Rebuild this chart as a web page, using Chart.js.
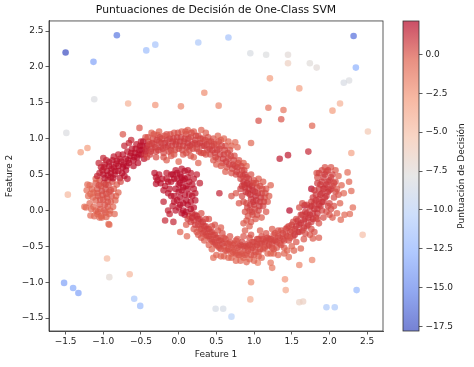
<!DOCTYPE html>
<html>
<head>
<meta charset="utf-8">
<script src="https://cdn.jsdelivr.net/npm/chart.js@4/dist/chart.umd.min.js"></script>
<style>
  body { margin: 0; background: #fff; }
  #wrap { position: relative; width: 474px; height: 367px; }
  #wrap canvas { position: absolute; left: 0; top: 0; }
</style>
</head>
<body>
<div id="wrap">
  <canvas id="scatter" width="474" height="367"></canvas>
  <canvas id="colorbar" width="474" height="367"></canvas>
</div>
<script>
// [x, y, decision score]
const upperMoon = [
  [-1.13,0.05,-0.7],[-1.08,-0.05,-0.4],[-1.02,-0.1,-0.4],[-0.96,-0.09,-0.3],[-0.92,-0.2,-0.8],[-0.99,0.0,0.0],[-1.05,0.08,0.0],
  [-0.94,0.05,0.0],[-0.9,0.12,-0.2],[-1.1,0.14,-0.3],[-1.18,0.1,-0.6],[-1.23,0.04,-0.8],[-1.16,0.02,-0.6],[-1.0,0.15,0.2],
  [-0.95,0.18,0.2],[-1.07,0.2,0.0],[-0.87,0.05,-0.4],[-0.85,-0.05,-0.6],[-1.03,-0.08,-0.3],[-1.12,-0.08,-0.6],
  [-1.13,0.25,-0.4],[-1.08,0.3,0.0],[-1.02,0.27,0.4],[-0.97,0.3,0.4],[-0.92,0.26,0.2],[-0.86,0.3,-0.2],[-1.18,0.35,-0.6],
  [-1.1,0.38,-0.2],[-1.05,0.42,0.2],[-0.99,0.38,0.6],[-0.94,0.42,0.6],[-0.88,0.4,0.2],[-0.82,0.36,-0.2],[-1.22,0.28,-0.8],
  [-0.8,0.25,-0.4],[-0.83,0.2,-0.3],[-1.06,0.35,0.2],[-0.96,0.23,0.2],[-1.21,0.36,-0.8],[-1.17,0.23,-0.7],[-1.25,0.05,-0.9],
  [-1.17,-0.07,-0.8],[-1.05,-0.1,-0.6],[-0.93,-0.19,-0.7],
  [-1.05,0.52,1.4],[-1.0,0.5,1.7],[-0.95,0.55,1.8],[-0.9,0.52,1.9],[-0.85,0.5,1.8],[-0.8,0.55,1.9],[-0.75,0.52,1.9],
  [-1.03,0.6,1.5],[-0.98,0.64,1.6],[-0.92,0.62,1.8],[-0.86,0.6,1.9],[-0.8,0.62,1.9],[-0.74,0.6,2.0],[-0.7,0.56,2.0],
  [-0.96,0.7,1.5],[-0.88,0.7,1.7],[-0.82,0.69,1.8],[-0.76,0.68,1.9],[-0.72,0.48,1.9],[-0.78,0.45,1.8],[-0.68,0.44,1.8],
  [-0.9,0.46,1.7],
  [-0.7,0.72,1.9],[-0.66,0.66,2.0],[-0.64,0.76,1.9],[-0.6,0.7,2.0],[-0.58,0.8,1.9],[-0.55,0.74,2.0],[-0.52,0.84,1.9],
  [-0.5,0.78,1.9],[-0.48,0.9,1.8],[-0.46,0.72,1.9],[-0.62,0.86,1.7],[-0.68,0.82,1.6],[-0.56,0.92,1.6],[-0.72,0.9,1.3],
  [-0.6,0.62,1.9],[-0.54,0.66,1.9],[-0.5,0.96,1.6],[-0.66,0.94,1.3],[-0.44,0.82,1.9],[-0.42,0.9,1.8],[-0.63,0.98,1.3],
  [-0.4,0.96,0.4],[-0.38,0.78,0.6],[-0.36,0.86,1.0],[-0.34,1.0,0.2],[-0.32,0.92,0.6],[-0.3,0.82,0.6],[-0.28,1.05,0.0],
  [-0.26,0.96,0.6],[-0.24,0.88,1.0],[-0.22,1.0,0.4],[-0.2,0.8,0.4],[-0.18,0.94,1.0],[-0.16,1.06,0.0],[-0.14,0.9,1.0],
  [-0.12,1.0,0.6],[-0.1,0.84,0.4],[-0.08,0.96,1.0],[-0.06,1.08,0.0],[-0.04,0.92,1.0],[-0.02,1.02,0.6],[0.0,0.86,0.4],
  [0.02,0.96,1.0],[0.04,1.1,-0.2],[0.06,0.9,0.6],[0.08,1.0,0.6],[0.1,1.06,0.2],[0.12,0.94,1.0],[0.14,0.84,0.2],
  [0.16,1.02,0.4],[0.18,0.92,1.0],[0.2,1.1,-0.2],[0.22,0.98,0.6],[0.24,0.86,0.4],[0.26,1.04,0.2],[0.28,0.94,1.0],
  [0.3,0.8,0.2],[0.32,1.0,0.4],[0.34,0.9,1.0],[0.36,1.08,-0.2],[0.38,0.84,0.6],[0.4,0.96,0.4],[0.42,0.78,0.4],
  [0.44,0.9,0.6],[-0.3,0.74,0.2],[-0.1,0.76,0.0],[0.06,0.78,0.0],[0.2,0.74,-0.2],[-0.26,1.1,-0.3],[0.3,1.12,-0.4],
  [0.12,1.12,-0.3],[-0.44,1.02,0.0],[-0.36,1.08,-0.3],[0.46,1.0,0.0],[0.0,0.68,-0.4],[0.26,0.66,-0.4],[-0.16,0.7,-0.2],
  [0.48,0.8,0.6],[0.5,0.92,0.2],[0.52,0.72,0.4],[0.54,0.86,0.6],[0.56,0.98,-0.2],[0.58,0.66,0.4],[0.6,0.78,0.6],
  [0.62,0.9,0.2],[0.64,0.6,0.2],[0.66,0.72,0.6],[0.68,0.84,0.2],[0.7,0.52,0.2],[0.72,0.64,0.6],[0.74,0.76,0.2],
  [0.76,0.5,0.4],[0.78,0.6,0.6],[0.8,0.7,0.0],[0.82,0.44,0.4],[0.84,0.56,0.4],[0.56,0.62,0.0],[0.5,0.64,-0.2],
  [0.46,0.7,0.0],[0.62,0.54,-0.2],[0.7,0.9,-0.3],[0.78,0.88,-0.5],[0.86,0.66,-0.3],[0.9,0.62,-0.5],[0.66,0.96,-0.4],
  [0.6,1.0,-0.5],[0.52,1.04,-0.4],[0.75,0.95,-0.6],
  [0.86,0.4,0.9],[0.88,0.32,0.9],[0.9,0.46,0.5],[0.92,0.24,0.9],[0.94,0.36,0.9],[0.96,0.16,0.9],[0.98,0.28,1.3],
  [1.0,0.08,0.7],[1.02,0.2,1.3],[1.04,0.32,0.5],[1.06,0.0,0.5],[1.08,0.12,0.9],[1.1,0.24,0.5],[1.12,0.06,0.5],
  [1.14,0.18,0.3],[1.16,0.3,0.0],[1.18,0.12,0.0],[0.82,0.3,0.7],[0.84,0.2,0.5],[0.9,0.1,0.3],[0.94,0.0,0.5],
  [0.98,-0.06,0.3],[0.88,-0.02,0.1],[0.9,-0.14,0.0],[0.88,-0.28,-0.1],[1.02,-0.12,0.0],[1.1,-0.1,-0.1],[1.2,0.2,-0.1],
  [1.22,0.35,-0.3],[0.96,0.5,0.1],[1.0,0.42,0.1],[0.8,0.1,0.0],[0.76,0.24,0.0],[0.94,-0.22,-0.2],[1.06,0.44,-0.1],
  [1.12,0.4,-0.1],[1.16,-0.02,0.0],[0.7,0.2,0.1],
  [-1.1,0.0,-0.5],[-1.04,0.02,-0.2],[-0.97,-0.03,-0.2],[-0.91,0.0,-0.3],[-1.14,0.18,-0.4],[-1.08,0.24,-0.2],[-1.01,0.22,0.2],
  [-0.94,0.12,0.0],[-0.89,0.2,0.0],[-0.84,0.14,-0.3],[-1.15,0.3,-0.4],[-1.1,0.44,-0.3],[-1.03,0.34,0.2],[-0.98,0.45,1.7],
  [-0.93,0.35,0.4],[-0.87,0.45,1.7],[-0.84,0.55,1.8],[-0.77,0.4,0.4],[-1.08,0.48,1.3],[-1.01,0.56,1.6],[-0.94,0.49,1.8],
  [-0.89,0.58,1.8],[-0.83,0.65,1.8],[-0.78,0.72,1.7],[-0.73,0.64,1.9],[-0.69,0.62,2.0],[-0.99,0.6,1.6],[-0.92,0.67,1.7],
  [-1.06,0.66,1.3],[-1.0,0.73,1.3],[-0.86,0.75,1.6],[-0.8,0.78,1.5],[-0.74,0.78,1.7],[-0.9,0.28,0.2],[-0.97,0.36,0.4],
  [-1.04,0.15,0.0],[-0.98,0.08,0.0],[-0.92,-0.05,-0.4],[-1.07,-0.02,-0.3],[-1.2,0.2,-0.7],
  [-0.67,0.7,1.9],[-0.63,0.8,1.8],[-0.59,0.74,1.9],[-0.57,0.86,1.8],[-0.53,0.78,1.9],[-0.51,0.9,1.8],[-0.49,0.84,1.9],
  [-0.47,0.96,1.7],[-0.45,0.78,1.0],[-0.43,0.86,1.0],[-0.41,1.02,0.2],[-0.39,0.92,0.6],[-0.37,0.82,0.6],[-0.35,0.94,0.6],
  [-0.33,1.06,0.0],[-0.31,0.88,0.6],[-0.29,0.98,0.6],[-0.27,0.84,0.6],[-0.25,1.02,0.4],[-0.23,0.94,0.6],[-0.21,0.86,0.6],
  [-0.19,1.04,0.2],[-0.17,0.88,0.6],[-0.15,0.98,0.6],[-0.13,0.82,0.4],[-0.11,1.06,0.2],[-0.09,0.9,0.6],[-0.07,1.0,0.6],
  [-0.05,0.84,0.4],[-0.03,0.96,0.6],[-0.01,1.08,0.2],[0.01,0.9,0.6],[0.03,1.02,0.6],[0.05,0.84,0.4],[0.07,0.96,0.6],
  [0.09,1.1,0.0],[0.11,0.88,0.6],[0.13,1.0,0.6],[0.15,0.9,0.6],[0.17,1.08,0.2],[0.19,0.86,0.4],[0.21,0.94,0.6],
  [0.23,1.04,0.4],[0.25,0.92,0.6],[0.27,0.82,0.4],[0.29,1.0,0.4],[0.31,0.9,0.6],[0.33,0.8,0.4],[0.35,0.98,0.4],
  [0.37,0.92,0.6],[0.39,1.02,0.2],[0.41,0.86,0.6],[0.43,0.96,0.4],[0.45,0.84,0.6],[0.47,0.92,0.4],[0.49,0.74,0.4],
  [0.51,0.84,0.6],[0.53,0.96,0.2],[0.55,0.78,0.6],[0.57,0.9,0.4],[0.59,0.72,0.6],[0.61,0.84,0.4],[0.63,0.68,0.6],
  [0.65,0.8,0.4],[0.67,0.64,0.6],[0.69,0.76,0.4],[0.71,0.58,0.4],[0.73,0.7,0.4],[0.75,0.62,0.6],[0.77,0.54,0.6],
  [0.79,0.66,0.2],[0.81,0.5,0.6],[0.83,0.62,0.4],[0.85,0.48,0.6],[0.87,0.56,0.4],[-0.42,0.74,0.4],[-0.2,0.74,0.2],
  [0.1,0.8,0.2],[0.36,0.78,0.2],[-0.06,0.78,0.0],[0.16,0.76,0.0],
  [0.87,0.36,0.9],[0.89,0.26,0.9],[0.91,0.38,0.9],[0.93,0.3,0.9],[0.95,0.22,0.9],[0.97,0.34,0.9],[0.99,0.12,0.9],
  [1.01,0.26,0.9],[1.03,0.14,0.9],[1.05,0.24,0.7],[1.07,0.06,0.7],[1.09,0.18,0.7],[1.11,0.3,0.3],[1.13,0.12,0.5],
  [1.15,0.24,0.3],[0.91,0.04,0.5],[0.95,0.08,0.7],[0.97,-0.02,0.5],[1.01,0.02,0.5],[1.04,-0.06,0.3],[0.92,-0.08,0.1],
  [0.86,0.12,0.3],[0.84,0.34,0.7],[0.88,0.5,0.7],[0.93,0.44,0.7],[0.99,0.38,0.5],[1.03,0.38,0.3],[1.08,0.34,0.3],
  [0.86,-0.18,-0.1],[0.96,-0.16,0.0]
];

const lowerMoon = [
  [-0.32,0.52,1.9],[-0.3,0.46,1.9],[-0.3,0.37,1.9],[-0.24,0.38,1.9],[-0.2,0.28,1.7],[-0.12,0.3,1.8],[-0.08,0.5,1.9],
  [-0.04,0.56,1.8],[-0.02,0.44,1.9],[0.0,0.36,1.9],[0.02,0.5,1.9],[0.04,0.28,1.9],[0.06,0.42,2.0],[0.08,0.55,1.8],
  [0.1,0.34,1.9],[0.12,0.46,1.8],[0.14,0.22,1.8],[0.16,0.52,1.6],[0.18,0.36,1.7],[-0.06,0.2,1.8],[-0.02,0.14,1.8],
  [0.02,0.18,1.9],[0.06,0.1,1.9],[0.08,0.22,1.9],[0.12,0.08,1.9],[0.0,0.04,1.8],[-0.08,0.06,1.6],[0.16,0.12,1.8],
  [0.2,0.04,1.8],[0.22,0.24,1.6],[-0.1,0.4,1.8],[-0.16,0.44,1.6],[0.24,0.5,1.4],[-0.2,0.12,1.5],[-0.14,0.0,1.4],
  [0.04,-0.04,1.8],[0.1,-0.02,1.9],[0.22,0.14,1.7],[-0.04,0.3,1.9],[-0.18,-0.14,1.2],[-0.07,-0.16,1.3],[-0.12,-0.05,1.4],
  [0.14,-0.08,0.6],[0.18,-0.04,1.0],[0.2,-0.14,0.6],[0.24,-0.08,1.0],[0.26,-0.2,0.6],[0.28,-0.12,0.6],[0.3,-0.26,0.4],
  [0.32,-0.16,1.0],[0.34,-0.3,0.4],[0.36,-0.22,0.6],[0.38,-0.36,0.4],[0.4,-0.26,0.6],[0.42,-0.4,0.4],[0.44,-0.3,0.6],
  [0.46,-0.44,0.4],[0.48,-0.34,0.4],[0.5,-0.48,0.2],[0.52,-0.38,0.4],[0.54,-0.52,0.0],[0.56,-0.42,0.4],[0.58,-0.32,0.2],
  [0.6,-0.5,0.2],[0.62,-0.4,0.4],[0.64,-0.56,0.0],[0.66,-0.46,0.2],[0.68,-0.36,0.0],[0.7,-0.6,-0.2],[0.26,-0.34,0.0],
  [0.2,-0.26,0.0],[0.1,-0.2,-0.2],[0.34,-0.42,-0.2],[0.44,-0.54,-0.3],[0.5,-0.62,-0.4],[0.48,-0.2,0.0],[0.4,-0.12,0.2],
  [0.56,-0.24,-0.2],[0.3,-0.04,0.2],[0.02,-0.3,-0.5],[0.11,-0.36,-0.6],[0.56,-0.64,-0.5],[0.46,-0.66,-0.7],
  [0.72,-0.48,0.2],[0.74,-0.56,0.0],[0.76,-0.42,0.2],[0.78,-0.62,-0.2],[0.8,-0.5,0.2],[0.82,-0.58,0.0],[0.84,-0.44,0.4],
  [0.86,-0.66,-0.3],[0.88,-0.52,0.4],[0.9,-0.6,0.0],[0.92,-0.46,0.4],[0.94,-0.68,-0.3],[0.96,-0.54,0.2],[0.98,-0.44,0.4],
  [1.0,-0.62,0.0],[1.02,-0.5,0.4],[1.04,-0.4,0.4],[1.06,-0.58,0.0],[1.08,-0.46,0.4],[1.1,-0.36,0.2],[1.12,-0.54,0.0],
  [1.14,-0.44,0.4],[1.16,-0.32,0.0],[1.18,-0.5,0.2],[1.2,-0.4,0.4],[1.22,-0.6,-0.3],[1.24,-0.46,0.2],[1.26,-0.34,0.2],
  [1.28,-0.42,0.4],[1.3,-0.52,0.0],[1.32,-0.36,0.4],[1.34,-0.46,0.2],[1.36,-0.28,0.0],[1.38,-0.4,0.4],[1.4,-0.52,-0.2],
  [1.42,-0.34,0.4],[1.44,-0.24,0.2],[1.46,-0.42,0.2],[1.48,-0.3,0.4],[0.9,-0.72,-0.5],[1.0,-0.7,-0.4],[0.82,-0.7,-0.4],
  [0.76,-0.7,-0.5],[0.7,-0.66,-0.4],[1.1,-0.66,-0.5],[1.18,-0.6,-0.4],[0.86,-0.36,0.0],[0.96,-0.34,0.0],[1.4,-0.6,-0.4],
  [1.32,-0.62,-0.5],[1.5,-0.5,-0.3],[1.44,-0.56,-0.4],[1.24,-0.26,-0.2],[1.08,-0.28,-0.2],[1.46,-0.65,-0.6],[1.26,-0.6,-0.5],
  [1.5,-0.2,0.7],[1.52,-0.36,0.5],[1.54,-0.26,0.7],[1.56,-0.12,0.5],[1.58,-0.3,0.7],[1.6,-0.2,0.9],[1.62,-0.06,0.7],
  [1.64,-0.28,0.5],[1.66,-0.14,0.9],[1.68,-0.02,0.9],[1.7,-0.22,0.7],[1.72,-0.1,0.9],[1.74,0.04,0.9],[1.76,-0.16,0.7],
  [1.78,-0.04,0.9],[1.8,0.1,0.9],[1.82,-0.1,0.7],[1.84,0.02,0.9],[1.86,0.16,0.9],[1.88,0.06,0.9],[1.9,0.24,0.9],
  [1.92,0.12,0.9],[1.94,0.32,0.7],[1.96,0.2,0.9],[1.98,0.4,0.7],[2.0,0.28,0.7],[2.02,0.46,0.5],[2.04,0.34,0.5],
  [2.06,0.18,0.3],[2.08,0.4,0.3],[1.88,0.36,0.7],[1.92,0.46,0.7],[1.96,0.54,0.5],[1.9,0.56,0.5],[1.84,0.46,0.3],
  [1.86,0.3,0.7],[1.82,0.22,0.7],[1.76,0.12,0.5],[1.7,0.08,0.5],[2.0,0.1,0.5],[2.02,0.02,0.3],[1.96,-0.02,0.3],
  [1.92,-0.1,0.3],[1.86,-0.18,0.1],[1.8,-0.3,0.1],[1.74,-0.34,0.0],[1.66,-0.4,0.0],[1.56,-0.44,0.0],[1.6,0.04,0.3],
  [1.64,0.1,0.3],[2.1,0.3,0.0],[2.12,0.48,-0.3],[2.14,0.1,-0.3],[2.1,-0.04,-0.4],[2.04,-0.1,-0.1],[1.94,0.6,0.1],
  [2.02,0.6,0.0],[1.83,0.52,0.1],[2.16,0.35,-0.4],[2.19,0.24,-0.6],[2.2,-0.06,-0.6],[2.15,-0.13,-0.6],[2.08,0.56,-0.1],
  [1.78,-0.39,-0.1],[1.86,-0.38,-0.1],[1.62,-0.53,-0.3],[1.53,-0.56,-0.3],
  [-0.28,0.42,1.9],[-0.26,0.5,1.8],[-0.22,0.44,1.8],[-0.18,0.34,1.8],[-0.14,0.4,1.8],[-0.1,0.5,1.9],[-0.06,0.44,1.9],
  [-0.02,0.52,1.9],[0.0,0.26,1.9],[0.02,0.38,2.0],[0.04,0.46,2.0],[0.06,0.32,1.9],[0.08,0.44,1.9],[0.1,0.14,1.9],
  [0.12,0.3,1.9],[0.14,0.4,1.8],[0.16,0.02,1.9],[0.18,0.2,1.8],[0.2,0.3,1.7],[-0.06,0.12,1.8],[-0.04,0.0,1.7],
  [0.02,0.08,1.9],[0.06,0.0,1.9],[0.08,-0.06,1.9],[-0.1,0.2,1.7],[-0.14,0.24,1.7],[0.04,0.58,1.7],[0.12,0.56,1.7],
  [-0.16,0.52,1.6],[0.2,0.44,1.6],
  [0.12,-0.12,0.6],[0.16,-0.16,0.6],[0.18,-0.1,1.0],[0.22,-0.2,0.6],[0.22,-0.06,1.0],[0.26,-0.12,1.0],[0.28,-0.26,0.4],
  [0.3,-0.18,0.6],[0.32,-0.32,0.4],[0.34,-0.22,0.6],[0.36,-0.34,0.4],[0.38,-0.26,0.6],[0.4,-0.36,0.4],[0.42,-0.3,0.4],
  [0.44,-0.42,0.4],[0.46,-0.34,0.4],[0.48,-0.46,0.4],[0.5,-0.38,0.4],[0.52,-0.5,0.2],[0.54,-0.42,0.4],[0.56,-0.54,0.2],
  [0.58,-0.46,0.4],[0.6,-0.38,0.2],[0.62,-0.56,0.0],[0.64,-0.46,0.2],[0.66,-0.54,0.2],[0.68,-0.44,0.2],[0.7,-0.52,0.2],
  [0.36,-0.12,0.4],[0.44,-0.22,0.2],[0.52,-0.28,0.0],[0.6,-0.64,-0.3],[0.66,-0.66,-0.4],[0.24,-0.3,0.0],[0.3,-0.38,0.0],
  [0.4,-0.48,-0.2],
  [0.72,-0.58,0.0],[0.74,-0.46,0.2],[0.76,-0.6,0.0],[0.78,-0.52,0.2],[0.8,-0.62,0.0],[0.82,-0.48,0.4],[0.84,-0.6,0.0],
  [0.86,-0.5,0.4],[0.88,-0.62,0.0],[0.9,-0.5,0.4],[0.92,-0.56,0.2],[0.94,-0.48,0.4],[0.96,-0.62,0.0],[0.98,-0.52,0.4],
  [1.0,-0.44,0.4],[1.02,-0.58,0.2],[1.04,-0.48,0.4],[1.06,-0.4,0.4],[1.08,-0.54,0.2],[1.1,-0.46,0.4],[1.12,-0.4,0.4],
  [1.14,-0.52,0.2],[1.16,-0.42,0.4],[1.18,-0.38,0.4],[1.2,-0.48,0.4],[1.22,-0.4,0.4],[1.24,-0.52,0.2],[1.26,-0.42,0.4],
  [1.28,-0.32,0.2],[1.3,-0.44,0.4],[1.32,-0.28,0.2],[1.34,-0.38,0.4],[1.36,-0.48,0.2],[1.38,-0.32,0.4],[1.4,-0.42,0.4],
  [1.42,-0.26,0.4],[1.44,-0.36,0.4],[1.46,-0.22,0.4],[1.48,-0.38,0.2],[1.5,-0.28,0.4],[1.52,-0.16,0.4],[0.78,-0.4,0.0],
  [0.94,-0.38,0.2],[1.06,-0.64,-0.2],[1.26,-0.54,0.0],
  [1.54,-0.34,0.7],[1.56,-0.22,0.7],[1.58,-0.14,0.7],[1.6,-0.3,0.7],[1.62,-0.18,0.9],[1.64,-0.06,0.7],[1.66,-0.24,0.7],
  [1.68,-0.12,0.9],[1.7,-0.04,0.9],[1.72,-0.2,0.7],[1.74,-0.06,0.9],[1.76,0.06,0.9],[1.78,-0.12,0.9],[1.8,0.02,0.9],
  [1.82,0.14,0.9],[1.84,-0.04,0.9],[1.86,0.08,0.9],[1.88,0.22,0.9],[1.9,0.12,0.9],[1.92,0.3,0.9],[1.94,0.18,0.9],
  [1.96,0.36,0.9],[1.98,0.26,0.9],[2.0,0.42,0.7],[2.02,0.3,0.7],[2.04,0.5,0.5],[2.06,0.38,0.5],[2.08,0.26,0.3],
  [1.9,0.4,0.7],[1.94,0.5,0.7],[1.98,0.56,0.5],[1.86,0.52,0.5],[1.84,0.38,0.7],[1.8,0.28,0.7],[1.78,0.18,0.7],
  [1.98,0.06,0.5],[1.9,0.0,0.5],[1.84,-0.12,0.5],[1.76,-0.26,0.3],[1.68,-0.32,0.3],[2.06,0.06,0.1],[2.12,0.22,0.0],
  [2.0,-0.06,0.1]
];

const strayPoints = [
  [-1.5,2.2,-17.78],[-0.82,2.44,-15.8],[-1.13,2.07,-13.5],[-0.43,2.23,-11.8],[-0.31,2.31,-11.3],[0.26,2.34,-11.0],
  [0.66,2.41,-11.4],[2.32,2.43,-16.2],[2.35,1.99,-12.8],[0.95,2.19,-8.2],[1.16,2.17,-7.9],[1.45,2.17,-7.4],
  [1.45,2.05,-6.3],[1.74,2.05,-7.6],[1.83,1.99,-7.4],[2.19,1.78,-8.3],[2.26,1.81,-8.0],[1.21,1.84,-3.0],
  [1.6,1.7,-3.2],[0.34,1.64,-2.2],[-0.67,1.49,-4.2],[-0.31,1.47,-2.6],[0.03,1.45,-2.0],[0.53,1.46,-2.0],
  [-1.12,1.55,-8.0],[1.19,1.43,-1.2],[1.39,1.4,-1.2],[1.06,1.25,0.2],[1.36,1.27,0.0],[1.77,1.18,-0.5],
  [2.14,1.49,-4.2],[2.04,1.39,-3.0],[2.51,1.1,-5.6],[-1.49,1.08,-8.0],[2.29,0.8,-3.4],[-1.47,0.22,-4.6],
  [-1.3,0.81,-3.0],[-1.21,0.87,-3.0],[2.44,-0.34,-5.0],[-0.95,-0.67,-4.6],[-0.92,-0.93,-7.2],[-0.65,-0.89,-4.5],
  [-1.52,-1.01,-13.6],[-1.4,-1.08,-13.2],[-1.33,-1.15,-13.6],[-0.59,-1.23,-11.2],[-0.51,-1.33,-12.0],
  [0.49,-1.37,-8.4],[0.59,-1.37,-8.4],[0.7,-1.48,-10.2],[0.95,-1.24,-4.2],[0.96,-1.0,-2.2],[1.41,-0.96,-2.6],
  [1.42,-1.11,-3.6],[1.6,-1.28,-6.6],[1.65,-1.27,-6.4],[1.96,-1.35,-11.0],[2.07,-1.35,-11.0],[2.36,-1.11,-12.2],
  [1.05,-0.73,-1.6],[1.6,-0.76,-1.8],[1.77,-0.69,-1.8],[1.22,-0.73,-1.2],[1.24,-0.8,-1.4],[0.96,0.94,-0.6],
  [1.45,0.77,1.6],[1.34,0.72,1.6],[1.72,0.82,1.2],[0.54,0.24,1.4],[0.28,0.38,1.5],[-0.74,1.06,0.0],[-0.52,1.15,0.0],
  [2.26,0.4,-0.4],[2.24,0.53,-0.8],[2.29,0.27,-0.6],[2.31,0.04,-0.8],[2.27,-0.05,-0.6],[1.76,0.3,2.1],
  [1.67,0.07,2.14],[1.47,0.0,2.1]
];

const xRange = [-1.72, 2.71];
const yRange = [-1.68, 2.64];
const scoreRange = [-17.78, 2.14];

// matplotlib coolwarm anchors
const coolwarm = [
  [59,76,192],[98,130,234],[141,176,254],[184,208,249],[221,221,221],
  [245,196,173],[244,154,123],[222,96,77],[180,4,38]
];
const ALPHA = 0.7;

function cmap(score) {
  let t = (score - scoreRange[0]) / (scoreRange[1] - scoreRange[0]);
  t = Math.max(0, Math.min(1, t));
  const pos = t * (coolwarm.length - 1);
  const i = Math.min(Math.floor(pos), coolwarm.length - 2);
  const f = pos - i;
  const a = coolwarm[i], b = coolwarm[i + 1];
  const c = a.map((v, k) => Math.round(v + (b[k] - v) * f));
  return `rgba(${c[0]},${c[1]},${c[2]},${ALPHA})`;
}

const fmt = v => v.toFixed(1).replace('-', '\u2212');
const FONT = 'DejaVu Sans';
const TEXT = '#222';
const AXIS = '#333';

function makeDataset(points) {
  return {
    data: points.map(p => ({ x: p[0], y: p[1] })),
    backgroundColor: points.map(p => cmap(p[2])),
    borderWidth: 0,
    pointRadius: 3.3,
    pointHoverRadius: 3.3
  };
}

const framePlugin = {
  id: 'frame',
  afterDraw(chart) {
    const { ctx, chartArea: a } = chart;
    ctx.save();
    ctx.strokeStyle = AXIS;
    ctx.lineWidth = 0.8;
    ctx.strokeRect(a.left, a.top, a.right - a.left, a.bottom - a.top);
    ctx.restore();
  }
};

const axisCommon = {
  type: 'linear',
  grid: { drawOnChartArea: false, drawTicks: true, tickLength: 3.5, tickColor: AXIS, tickWidth: 0.8 },
  border: { display: true, color: AXIS, width: 0.8 },
  ticks: { stepSize: 0.5, includeBounds: false, autoSkip: false, maxRotation: 0,
           font: { family: FONT, size: 9 }, color: TEXT, callback: v => fmt(v) }
};

new Chart(document.getElementById('scatter'), {
  type: 'scatter',
  data: { datasets: [makeDataset(upperMoon), makeDataset(lowerMoon), makeDataset(strayPoints)] },
  options: {
    responsive: false,
    animation: false,
    layout: { padding: { top: 0, left: 0, right: 91, bottom: 0 } },
    plugins: {
      legend: { display: false },
      tooltip: { enabled: false },
      title: {
        display: true,
        text: 'Puntuaciones de Decisión de One-Class SVM',
        fullSize: false,
        color: '#111',
        font: { family: FONT, size: 10.8, weight: 'normal' },
        padding: { top: 4, bottom: 4 }
      }
    },
    scales: {
      x: {
        ...axisCommon,
        min: xRange[0], max: xRange[1],
        ticks: { ...axisCommon.ticks, padding: 1.5 },
        title: { display: true, text: 'Feature 1', color: TEXT, font: { family: FONT, size: 9 }, padding: { top: 0, bottom: 7 } },
        afterFit: s => { s.height = 36; }
      },
      y: {
        ...axisCommon,
        min: yRange[0], max: yRange[1],
        ticks: { ...axisCommon.ticks, padding: 2 },
        title: { display: true, text: 'Feature 2', color: TEXT, font: { family: FONT, size: 9 }, padding: { top: 4, bottom: 4 } },
        afterFit: s => { s.width = 49; }
      }
    }
  },
  plugins: [framePlugin]
});

// gradient bar + its label (label reads bottom to top, like matplotlib)
const colorbarPlugin = {
  id: 'cbGradient',
  beforeDatasetsDraw(chart) {
    const { ctx, chartArea: a } = chart;
    const g = ctx.createLinearGradient(0, a.bottom, 0, a.top);
    coolwarm.forEach((c, i) => {
      g.addColorStop(i / (coolwarm.length - 1), `rgba(${c[0]},${c[1]},${c[2]},${ALPHA})`);
    });
    ctx.save();
    ctx.fillStyle = g;
    ctx.fillRect(a.left, a.top, a.right - a.left, a.bottom - a.top);
    ctx.restore();
  },
  afterDraw(chart) {
    const { ctx, chartArea: a } = chart;
    ctx.save();
    ctx.translate(chart.width - 12.5, (a.top + a.bottom) / 2);
    ctx.rotate(-Math.PI / 2);
    ctx.font = `9px "${FONT}"`;
    ctx.fillStyle = TEXT;
    ctx.textAlign = 'center';
    ctx.textBaseline = 'middle';
    ctx.fillText('Puntuación de Decisión', 0, 0);
    ctx.restore();
  }
};

new Chart(document.getElementById('colorbar'), {
  type: 'scatter',
  data: { datasets: [{ data: [] }] },
  options: {
    responsive: false,
    animation: false,
    layout: { padding: { top: 21, left: 403, right: 0, bottom: 36 } },
    plugins: { legend: { display: false }, tooltip: { enabled: false }, title: { display: false } },
    scales: {
      x: { display: false, min: 0, max: 1 },
      y: {
        type: 'linear',
        position: 'right',
        min: scoreRange[0], max: scoreRange[1],
        grid: { drawOnChartArea: false, drawTicks: true, tickLength: 3.5, tickColor: AXIS, tickWidth: 0.8 },
        border: { display: false },
        ticks: { stepSize: 2.5, includeBounds: false, autoSkip: false, padding: 3,
                 font: { family: FONT, size: 9 }, color: TEXT, callback: v => fmt(v) },
        afterFit: s => { s.width = 55; }
      }
    }
  },
  plugins: [colorbarPlugin, framePlugin]
});
</script>
</body>
</html>
